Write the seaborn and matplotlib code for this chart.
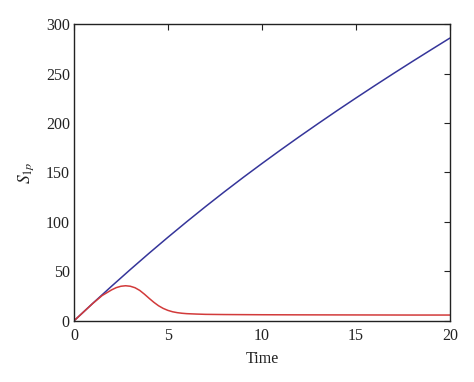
import numpy as np
import pandas as pd
import matplotlib
matplotlib.use("Agg")
import matplotlib.pyplot as plt
import seaborn as sns

# values
time_blue = [0, 1, 2, 3, 4, 5, 6, 7, 8, 9, 10, 11, 12, 13, 14, 15, 16, 17, 18, 19, 20]
s1p_blue = [0, 17.7, 35.0, 51.9, 68.4, 84.5, 100.2, 115.5, 130.4, 144.9, 159.0,
            172.8, 186.3, 199.5, 212.5, 225.2, 237.7, 250.0, 262.1, 274.0, 285.8]

time_red = [0, 0.5, 1, 1.5, 2, 2.25, 2.5, 2.75, 3, 3.25, 3.5, 3.75, 4, 4.25, 4.5, 4.75, 5,
            5.25, 5.5, 5.75, 6, 6.5, 7, 8, 9, 10, 12, 15, 18, 20]
s1p_red = [0, 8.8, 17.6, 25.6, 31.3, 33.6, 35.0, 35.5, 35.0, 33.5, 30.8, 27.0, 22.8, 18.8, 15.3, 12.6, 10.6,
           9.2, 8.3, 7.7, 7.3, 6.9, 6.6, 6.4, 6.3, 6.2, 6.1, 6.0, 5.9, 5.9]

df_blue = pd.DataFrame({"Time": time_blue, "S1p": s1p_blue})
df_red = pd.DataFrame({"Time": time_red, "S1p": s1p_red})

sns.set_style("white")
plt.rcParams['font.family'] = ['Liberation Serif', 'DejaVu Serif']
plt.rcParams['mathtext.fontset'] = 'stix'

fig = plt.figure(figsize=(4.74, 3.82), dpi=100)
ax = fig.add_axes([0.156, 0.16, 0.793, 0.777])

sns.lineplot(data=df_blue, x="Time", y="S1p", color="#35359a", linewidth=1.1, ax=ax)
sns.lineplot(data=df_red, x="Time", y="S1p", color="#d23a3a", linewidth=1.1, ax=ax)

ax.set_xlim(0, 20)
ax.set_ylim(0, 300)
ax.set_xticks([0, 5, 10, 15, 20])
ax.set_yticks([0, 50, 100, 150, 200, 250, 300])
ax.tick_params(direction="in", top=True, right=True, length=4, width=0.8,
               labelsize=11.5, colors="#222222")
ax.tick_params(axis="x", pad=5)
ax.tick_params(axis="y", pad=3)
for sp in ax.spines.values():
    sp.set_color("#222222")
    sp.set_linewidth(1.0)

ax.set_xlabel("Time", fontsize=11.5, color="#222222", labelpad=5)
ax.set_ylabel(r"$S_{1p}$", fontsize=12.5, color="#222222", labelpad=7)

fig.savefig("out.png", dpi=100)
